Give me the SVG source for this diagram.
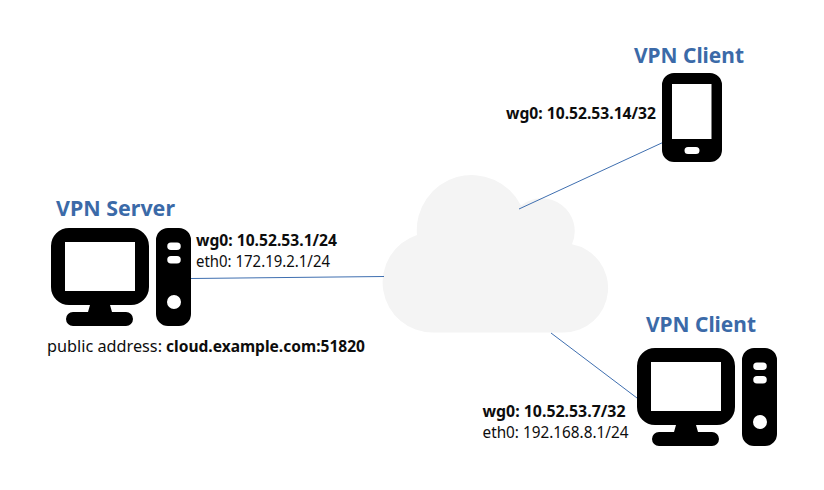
<svg xmlns="http://www.w3.org/2000/svg" width="824" height="490" viewBox="0 0 824 490">
<style>
text{font-family:"Noto Sans","Liberation Sans",sans-serif;font-size:16.500px;fill:#0d0d0d}
.b{font-weight:700}
.t{font-size:22px;font-weight:700;fill:#3b6aa8}
.c{stroke:#3f6fb0;stroke-width:1;fill:none}
</style>
<defs>
<g id="pc">
<path fill-rule="evenodd" d="M69 228H131A18 18 0 0 1 149 246V287A18 18 0 0 1 131 305H110L112 312H126A7 7 0 0 1 126 326H73A7 7 0 0 1 73 312H88L90 305H69A18 18 0 0 1 51 287V246A18 18 0 0 1 69 228ZM65 242V291H135V242Z"/>
<path fill-rule="evenodd" d="M168 228H179A12 12 0 0 1 191 240V314A12 12 0 0 1 179 326H168A12 12 0 0 1 156 314V240A12 12 0 0 1 168 228ZM171 242.500A3.700 3.700 0 0 0 171 250H177A3.700 3.700 0 0 0 177 242.500ZM171 256A3.700 3.700 0 0 0 171 263.500H177A3.700 3.700 0 0 0 177 256ZM174 295A7 7 0 1 0 174 309A7 7 0 1 0 174 295Z"/>
</g>
</defs>
<g id="cloud"><path fill="#f4f4f4" d="M433 332.500A50 50 0 0 1 417 235A55 55 0 0 1 521 205.500A33 33 0 0 1 572 244.300A44.500 44.500 0 0 1 563.500 332.500Z"/></g>
<g id="connectors">
<line class="c" x1="191" y1="278.500" x2="384" y2="276.500"/>
<line class="c" x1="519" y1="209" x2="666" y2="141"/>
<line class="c" x1="551" y1="333" x2="637" y2="398"/>
</g>
<g id="server">
<use href="#pc"/>
<text class="t" x="56" y="216" textLength="119" lengthAdjust="spacingAndGlyphs">VPN Server</text>
<text class="b" x="196" y="246" textLength="141" lengthAdjust="spacingAndGlyphs">wg0: 10.52.53.1/24</text>
<text x="196" y="267" textLength="134" lengthAdjust="spacingAndGlyphs">eth0: 172.19.2.1/24</text>
<text x="47" y="352" textLength="115" lengthAdjust="spacingAndGlyphs">public address:</text>
<text class="b" x="166" y="352" textLength="199" lengthAdjust="spacingAndGlyphs">cloud.example.com:51820</text>
</g>
<g id="phone-client">
<path fill-rule="evenodd" d="M674 73H710A12 12 0 0 1 722 85V150A12 12 0 0 1 710 162H674A12 12 0 0 1 662 150V85A12 12 0 0 1 674 73ZM672 84V139H711.500V84ZM688 147A3.500 3.500 0 0 0 688 154H696A3.500 3.500 0 0 0 696 147Z"/>
<text class="t" x="634" y="63" textLength="110" lengthAdjust="spacingAndGlyphs">VPN Client</text>
<text class="b" x="506" y="119" textLength="150" lengthAdjust="spacingAndGlyphs">wg0: 10.52.53.14/32</text>
</g>
<g id="pc-client">
<use href="#pc" x="586" y="120"/>
<text class="t" x="646" y="332" textLength="110" lengthAdjust="spacingAndGlyphs">VPN Client</text>
<text class="b" x="482.500" y="416.500" textLength="143" lengthAdjust="spacingAndGlyphs">wg0: 10.52.53.7/32</text>
<text x="482.500" y="437.500" textLength="146" lengthAdjust="spacingAndGlyphs">eth0: 192.168.8.1/24</text>
</g>
</svg>
